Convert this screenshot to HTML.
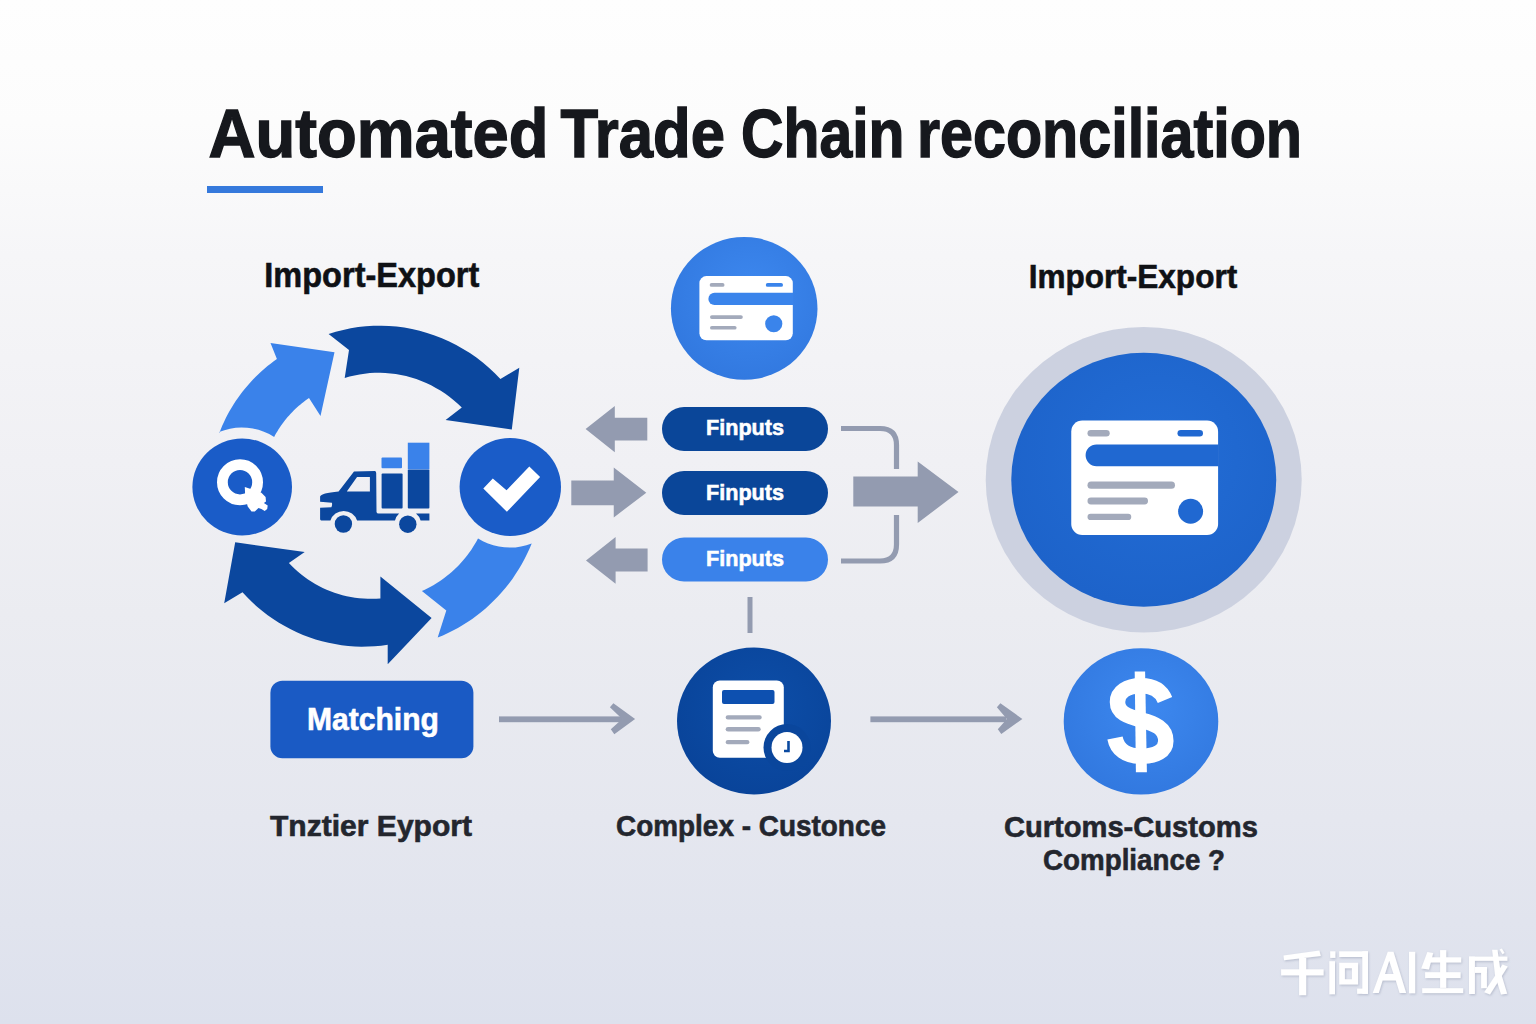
<!DOCTYPE html>
<html><head><meta charset="utf-8"><style>
html,body{margin:0;padding:0;width:1536px;height:1024px;overflow:hidden}
body{background:linear-gradient(180deg,#fefefe 0%,#fcfcfc 12%,#f6f6f8 25%,#f0f0f4 45%,#ebecf1 60%,#e5e7ef 80%,#dde1ed 100%);font-family:"Liberation Sans",sans-serif}
svg{position:absolute;left:0;top:0}
</style></head><body>
<svg width="1536" height="1024" viewBox="0 0 1536 1024" font-family="Liberation Sans" font-weight="700">
<defs><radialGradient id="gL" cx="55%" cy="40%" r="60%"><stop offset="0" stop-color="#3d88ef"/><stop offset="1" stop-color="#3279e0"/></radialGradient><radialGradient id="gBig" cx="55%" cy="40%" r="60%"><stop offset="0" stop-color="#236dd6"/><stop offset="1" stop-color="#1d63ca"/></radialGradient><radialGradient id="gD" cx="55%" cy="40%" r="60%"><stop offset="0" stop-color="#0d4ea8"/><stop offset="1" stop-color="#09449a"/></radialGradient><filter id="wsh" x="-10%" y="-10%" width="120%" height="130%"><feDropShadow dx="0.8" dy="1.2" stdDeviation="1.2" flood-color="#8890a8" flood-opacity="0.45"/></filter></defs>
<text x="208.5" y="157.2" font-size="68" textLength="340" lengthAdjust="spacingAndGlyphs" fill="#16181d" stroke="#16181d" stroke-width="1.4">Automated</text>
<text x="560.5" y="157.2" font-size="68" textLength="164.5" lengthAdjust="spacingAndGlyphs" fill="#16181d" stroke="#16181d" stroke-width="1.4">Trade</text>
<text x="741" y="157.2" font-size="68" textLength="163.5" lengthAdjust="spacingAndGlyphs" fill="#16181d" stroke="#16181d" stroke-width="1.4">Chain</text>
<text x="917" y="157.2" font-size="68" textLength="385" lengthAdjust="spacingAndGlyphs" fill="#16181d" stroke="#16181d" stroke-width="1.4">reconciliation</text>
<rect x="207" y="186" width="116" height="7" fill="#3579dc"/>
<text x="264.3" y="287.1" font-size="35" textLength="215" lengthAdjust="spacingAndGlyphs" fill="#0f1115" stroke="#0f1115" stroke-width="0.6">Import-Export</text>
<text x="1028.7" y="287.7" font-size="34" textLength="208.5" lengthAdjust="spacingAndGlyphs" fill="#0f1115" stroke="#0f1115" stroke-width="0.6">Import-Export</text>
<path d="M219.3,432.9 L220.8,429.2 L222.3,425.5 L224.0,421.9 L225.7,418.3 L227.5,414.8 L229.4,411.3 L231.4,407.9 L233.5,404.5 L235.7,401.1 L237.9,397.9 L240.2,394.7 L242.6,391.5 L245.1,388.4 L247.7,385.4 L250.3,382.4 L253.0,379.5 L255.7,376.7 L258.6,373.9 L261.5,371.3 L264.4,368.7 L267.5,366.1 L270.6,363.7 L273.7,361.3 L276.9,359.0 L270.5,343.0 L334.5,352.2 L320.5,416.0 L309.0,398.0 L307.2,399.3 L305.4,400.6 L303.6,401.9 L301.9,403.3 L300.2,404.7 L298.5,406.1 L296.9,407.6 L295.2,409.1 L293.7,410.6 L292.1,412.2 L290.6,413.8 L289.1,415.4 L287.6,417.1 L286.2,418.8 L284.8,420.5 L283.5,422.3 L282.2,424.0 L280.9,425.8 L279.6,427.7 L278.4,429.5 L277.3,431.4 L276.1,433.3 L275.0,435.2 L274.0,437.2 L274.2,436.9 L269.2,434.1 L263.9,431.7 L258.5,429.8 L252.9,428.5 L247.2,427.7 L241.4,427.5 L235.7,427.8 L230.0,428.7 L224.4,430.2 L219.0,432.1 Z" fill="#3a82ea"/>
<path d="M328.6,334.0 L335.8,331.8 L343.2,329.9 L350.7,328.3 L358.2,327.1 L365.8,326.3 L373.5,325.8 L381.2,325.7 L388.9,326.0 L396.6,326.6 L404.3,327.6 L412.0,329.0 L419.6,330.8 L427.1,332.9 L434.6,335.4 L441.9,338.2 L449.2,341.4 L456.2,345.0 L463.1,348.9 L469.9,353.1 L476.4,357.6 L482.8,362.5 L488.9,367.7 L494.8,373.2 L500.4,379.0 L519.3,367.7 L511.8,429.5 L445.6,419.9 L461.8,407.6 L457.8,403.8 L453.7,400.2 L449.4,396.8 L445.0,393.6 L440.4,390.6 L435.8,387.9 L431.1,385.3 L426.2,383.0 L421.3,380.9 L416.3,379.1 L411.2,377.5 L406.1,376.1 L400.9,375.0 L395.8,374.1 L390.6,373.4 L385.3,373.0 L380.1,372.8 L374.9,372.8 L369.8,373.1 L364.7,373.7 L359.6,374.4 L354.5,375.4 L349.6,376.6 L344.7,378.0 L349.0,350.0 Z" fill="#0b479e"/>
<path d="M531.7,543.5 L529.5,548.8 L527.0,554.1 L524.4,559.3 L521.7,564.3 L518.7,569.3 L515.6,574.1 L512.4,578.9 L509.0,583.5 L505.4,588.0 L501.7,592.3 L497.9,596.6 L493.9,600.6 L489.8,604.6 L485.6,608.4 L481.3,612.0 L476.8,615.5 L472.2,618.9 L467.6,622.0 L462.8,625.0 L457.9,627.9 L453.0,630.5 L448.0,633.0 L442.9,635.4 L437.7,637.5 L446.3,610.6 L421.9,591.1 L421.9,591.1 L424.8,589.8 L427.7,588.3 L430.6,586.8 L433.4,585.2 L436.1,583.5 L438.9,581.8 L441.5,580.0 L444.2,578.1 L446.7,576.1 L449.3,574.1 L451.7,571.9 L454.1,569.7 L456.5,567.5 L458.8,565.2 L461.0,562.8 L463.2,560.3 L465.3,557.8 L467.3,555.2 L469.3,552.6 L471.2,549.9 L473.0,547.1 L474.7,544.3 L476.4,541.5 L478.0,538.6 L478.1,538.5 L482.9,541.2 L488.0,543.5 L493.3,545.3 L498.8,546.6 L504.3,547.3 L509.9,547.6 L515.5,547.4 L521.0,546.6 L526.4,545.3 L531.7,543.6 Z" fill="#3a82ea"/>
<path d="M235.2,542.3 L304.7,552.0 L288.9,563.0 L288.9,563.0 L291.8,566.0 L294.9,569.0 L298.0,571.8 L301.3,574.5 L304.6,577.1 L308.0,579.5 L311.6,581.8 L315.2,584.0 L318.9,586.0 L322.7,587.9 L326.6,589.7 L330.5,591.3 L334.4,592.7 L338.5,594.0 L342.5,595.2 L346.7,596.2 L350.8,597.0 L355.0,597.7 L359.2,598.2 L363.4,598.6 L367.7,598.8 L371.9,598.8 L376.2,598.7 L380.4,598.4 L380.4,576.4 L431.6,618.0 L387.7,664.3 L387.7,644.8 L387.7,644.8 L381.2,645.7 L374.6,646.3 L368.0,646.6 L361.4,646.7 L354.8,646.4 L348.2,645.9 L341.6,645.2 L335.0,644.1 L328.5,642.8 L322.0,641.2 L315.6,639.4 L309.2,637.2 L303.0,634.9 L296.8,632.2 L290.7,629.3 L284.7,626.1 L278.9,622.7 L273.2,619.1 L267.7,615.2 L262.3,611.0 L257.1,606.7 L252.0,602.1 L247.2,597.3 L242.5,592.3 L224.2,603.3 Z" fill="#0b479e"/>
<ellipse cx="242.2" cy="487" rx="49.8" ry="48.5" fill="#1a5cc8"/>
<circle cx="240" cy="482.2" r="17.6" fill="none" stroke="#fff" stroke-width="10.8"/>
<path d="M244.8,486.9 L261.4,492.7 L265.6,496.9 L266.0,501.4 L263.9,503.1 L267.7,505.6 L267.2,508.9 L264.7,511.0 L261.4,508.9 L258.5,508.1 L254.8,511.4 L251.5,511.4 L247.7,506.4 L245.2,496.5 Z" fill="#fff"/>
<ellipse cx="510.3" cy="487" rx="50.7" ry="49" fill="#1a5cc8"/>
<path d="M483.3,488.6 L492.8,478.6 L506.5,490.3 L529.3,466.6 L540.1,477.0 L506.9,511.8 Z" fill="#fff"/>
<path d="M320.1,496.5 Q321,493 338.6,491.4 L354.0,471.4 L375.0,471.1 Q376.2,471.5 376.2,472.9 L376.5,511.9 Q376.8,513.6 378.6,513.6 L399.1,513.6 A13.7,13.7 0 0 0 395.0,520.6 L357.05,520.6 A14,14 0 0 0 330.4,520.6 L321.2,520.6 Q320.1,520.5 320.1,519.1 L320.1,507.8 L331.4,507.3 Q332.5,505 331.9,502.7 L320.1,501.7 Z M346.8,491.4 L357.05,477.05 L369.9,477.05 L369.9,491.4 Z" fill="#0b479e" fill-rule="evenodd"/>
<path d="M416.0,513.5 L429.4,513.5 L429.4,520.6 L420.6,520.6 A13.3,13.3 0 0 0 416.0,513.5 Z" fill="#0b479e"/>
<circle cx="343.4" cy="524" r="8.7" fill="#0b479e"/>
<circle cx="407.8" cy="524.2" r="8.7" fill="#0b479e"/>
<rect x="381.6" y="473.5" width="21" height="35.1" rx="1" fill="#0b479e"/>
<rect x="381.5" y="457.4" width="20.5" height="10.9" rx="1" fill="#3a82ea"/>
<rect x="407.8" y="469.4" width="21.6" height="39.2" rx="1" fill="#0b479e"/>
<rect x="407.8" y="442.7" width="21.6" height="26.7" fill="#3a82ea"/>
<ellipse cx="744.2" cy="308.4" rx="73.3" ry="71.4" fill="url(#gL)"/>
<rect x="699.4" y="276.1" width="93.4" height="64.1" rx="7" fill="#fff"/><path d="M714.5,292.8 L793.3,292.8 L793.3,305.0 L714.5,305.0 A6.1,6.1 0 0 1 714.5,292.8 Z" fill="#3a84eb"/><rect x="709.7" y="283" width="14.799999999999955" height="3.8000000000000114" rx="1.9000000000000057" fill="#a3aabb"/><rect x="765.8" y="283" width="17.200000000000045" height="3.8000000000000114" rx="1.9000000000000057" fill="#3a84eb"/><rect x="710" y="315.2" width="32.799999999999955" height="3.6999999999999886" rx="1.8499999999999943" fill="#a3aabb"/><rect x="710" y="325.9" width="26.600000000000023" height="3.7000000000000455" rx="1.8500000000000227" fill="#a3aabb"/><circle cx="773.75" cy="323.75" r="8.6" fill="#3a84eb"/>
<rect x="662" y="407" width="166" height="44" rx="22" fill="#0a4699"/>
<rect x="662" y="471" width="166" height="44" rx="22" fill="#0a4699"/>
<rect x="662" y="537.5" width="166" height="44" rx="22" fill="#3a82ea"/>
<text x="706" y="435.4" font-size="22.5" textLength="78" lengthAdjust="spacingAndGlyphs" fill="#fff" stroke="#fff" stroke-width="0.6">Finputs</text>
<text x="706" y="499.6" font-size="22.5" textLength="78" lengthAdjust="spacingAndGlyphs" fill="#fff" stroke="#fff" stroke-width="0.6">Finputs</text>
<text x="706" y="566" font-size="22.5" textLength="78" lengthAdjust="spacingAndGlyphs" fill="#fff" stroke="#fff" stroke-width="0.6">Finputs</text>
<path d="M585.6,429 L614.8,406 L614.8,417.7 L647.3,417.7 L647.3,440.6 L614.8,440.6 L614.8,452.3 Z" fill="#939bb0"/>
<path d="M646.3,492.7 L613.75,467.4 L613.75,480.4 L571.3,480.4 L571.3,505.2 L613.75,505.2 L613.75,517.4 Z" fill="#939bb0"/>
<path d="M586,560.4 L615.6,537 L615.6,548.6 L647.6,548.6 L647.6,571.6 L615.6,571.6 L615.6,583.8 Z" fill="#939bb0"/>
<path d="M841,428.5 L880,428.5 Q896.5,428.5 896.5,445 L896.5,469" fill="none" stroke="#939bb0" stroke-width="5.2"/>
<path d="M841,561 L880,561 Q896.5,561 896.5,544.5 L896.5,515" fill="none" stroke="#939bb0" stroke-width="5.2"/>
<path d="M958.5,492 L917.7,461.4 L917.7,476.5 L853.3,476.5 L853.3,506.5 L917.7,506.5 L917.7,523.1 Z" fill="#939bb0"/>
<rect x="747.5" y="597" width="5" height="36" fill="#939bb0"/>
<ellipse cx="1143.7" cy="479.7" rx="158" ry="152.8" fill="#ccd1e0"/>
<ellipse cx="1143.75" cy="479.8" rx="132.5" ry="127" fill="url(#gBig)"/>
<rect x="1071.25" y="420.6" width="146.85" height="114.4" rx="11" fill="#fff"/><path d="M1096.55,444.4 L1218.6,444.4 L1218.6,466.29999999999995 L1096.55,466.29999999999995 A10.95,10.95 0 0 1 1096.55,444.4 Z" fill="#2068d1"/><rect x="1087.5" y="430" width="22.200000000000045" height="6.600000000000023" rx="3.3000000000000114" fill="#a3aabb"/><rect x="1177.5" y="430" width="25.5" height="6.600000000000023" rx="3.3000000000000114" fill="#2068d1"/><rect x="1087.5" y="481.6" width="87.5" height="7.149999999999977" rx="3.5749999999999886" fill="#a3aabb"/><rect x="1087.5" y="497.5" width="60.5" height="6.899999999999977" rx="3.4499999999999886" fill="#a3aabb"/><rect x="1087.5" y="513.75" width="43.75" height="6.25" rx="3.125" fill="#a3aabb"/><circle cx="1190.6" cy="511.25" r="12.5" fill="#2068d1"/>
<rect x="270.4" y="680.8" width="203" height="77.4" rx="12" fill="#1a5ac4"/>
<text x="306.9" y="730.3" font-size="32" textLength="132" lengthAdjust="spacingAndGlyphs" fill="#fff" stroke="#fff" stroke-width="0.6">Matching</text>
<rect x="499" y="716.4" width="123" height="5.8" fill="#939bb0"/><path d="M613.4,703.2 L635.1,719 L614.3,734.2 L610.8,729.25 L622.2,719.1 L609.9,707.3 Z" fill="#939bb0"/>
<rect x="870.4" y="716.4" width="136" height="5.8" fill="#939bb0"/><path d="M1000.4,703.2 L1022.4,719 L1001.3,733.9 L997.8,729.25 L1006.9,719.1 L996.9,707.3 Z" fill="#939bb0"/>
<ellipse cx="754" cy="721" rx="77" ry="73.4" fill="url(#gD)"/>
<rect x="712.8" y="680.4" width="71" height="77.4" rx="7" fill="#fff"/>
<rect x="722" y="690" width="52.5" height="14" rx="2" fill="#0d50b0"/>
<rect x="725.7" y="715.2" width="36" height="4.3" rx="2.1" fill="#a3aabb"/>
<rect x="725.7" y="727" width="35" height="4.6" rx="2.3" fill="#a3aabb"/>
<rect x="725.7" y="740" width="23.7" height="4.3" rx="2.1" fill="#a3aabb"/>
<circle cx="787" cy="747.5" r="23.5" fill="#0a469c"/>
<circle cx="787" cy="747.5" r="15.5" fill="#fff"/>
<path d="M788.5,741 L788.5,751 L784,751" fill="none" stroke="#0a4aa0" stroke-width="2.6"/>
<ellipse cx="1141" cy="721.4" rx="77.3" ry="73.2" fill="url(#gL)"/>
<path d="M1134.7,671.5 L1145.1,671.5 L1146.9,772.3 L1135.9,772.3 Z" fill="#fff"/>
<path d="M1165,700 C1161,690 1152,685.8 1141,685.8 C1127,685.8 1117.5,692 1117.5,702 C1117.5,713 1128,716.5 1141,720 C1155,723.7 1165.8,728 1165.8,741 C1165.8,751 1156,756.3 1141,756.3 C1126,756.3 1117,749 1115,738" fill="none" stroke="#fff" stroke-width="15.5"/>
<text x="270" y="835.8" font-size="30" textLength="202" lengthAdjust="spacingAndGlyphs" fill="#23262e" stroke="#23262e" stroke-width="0.6">Tnztier Eyport</text>
<text x="616" y="836" font-size="30" textLength="270" lengthAdjust="spacingAndGlyphs" fill="#23262e" stroke="#23262e" stroke-width="0.6">Complex - Custonce</text>
<text x="1003.9" y="836.6" font-size="30" textLength="254" lengthAdjust="spacingAndGlyphs" fill="#23262e" stroke="#23262e" stroke-width="0.6">Curtoms-Customs</text>
<text x="1043" y="870" font-size="30" textLength="182" lengthAdjust="spacingAndGlyphs" fill="#23262e" stroke="#23262e" stroke-width="0.6">Compliance ?</text>
<g fill="#ffffff" filter="url(#wsh)">
<path d="M1283.5,955.6 L1319.4,950.4 L1320.8,956.0 L1284.0,960.3 Z"/>
<rect x="1281.1" y="969.3" width="42.5" height="6.1"/>
<rect x="1299.1" y="958" width="7.1" height="37.2"/>
<rect x="1330.2" y="951.3" width="5.2" height="6.6"/>
<rect x="1329.3" y="961.2" width="5.7" height="33.1"/>
<rect x="1339.2" y="951.3" width="28.8" height="5.7"/>
<rect x="1362.3" y="951.3" width="5.7" height="42.5"/>
<rect x="1357.1" y="988.6" width="10.9" height="5.2"/>
<path fill-rule="evenodd" d="M1339.2,962.7 H1358.1 V984.4 H1339.2 Z M1344.9,968.3 H1351.9 V979.2 H1344.9 Z"/>
<path fill-rule="evenodd" d="M1372.7,992.9 L1387.8,951.8 L1393.5,951.8 L1406.2,992.9 L1399.6,992.9 L1395.8,980.6 L1382.6,980.6 L1378.8,992.9 Z M1385,974 L1389.2,960.8 L1393.5,974 Z"/>
<rect x="1409" y="951.8" width="6.2" height="41.5"/>
<path d="M1427.4,952.0 L1433.2,953.0 L1429.0,969.6 L1421.2,968.6 Z"/>
<rect x="1430" y="957.3" width="31.2" height="5.2"/>
<rect x="1440.1" y="950.1" width="6.15" height="37.8"/>
<rect x="1425.1" y="972.2" width="35.5" height="5.9"/>
<rect x="1422.2" y="988.2" width="41" height="4.9"/>
<rect x="1469" y="956.6" width="38.4" height="4.2"/>
<rect x="1469" y="956.6" width="5.9" height="37.4"/>
<rect x="1474.9" y="967" width="12" height="5.9"/>
<rect x="1481.1" y="967" width="5.8" height="21.2"/>
<path d="M1492.1,949.8 L1497.5,949.8 L1500.6,972 L1507.2,993.8 L1501,994.4 L1495,975 Z"/>
<path d="M1484.2,992.2 L1502.5,964.5 L1507.8,966.6 L1490,994.4 Z"/>
<path d="M1499.6,949.5 L1501.8,948.5 L1504.6,953 L1502.4,954.3 Z"/>
</g>
</svg>
</body></html>
